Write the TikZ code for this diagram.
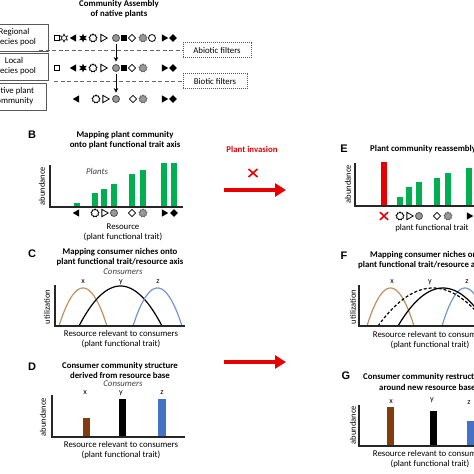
\documentclass[tikz,border=0pt]{standalone}
\usepackage{fontspec}
\setmainfont{Carlito}
\newfontfamily\labfont{Liberation Sans}
\usetikzlibrary{shapes.geometric, arrows.meta, calc}
\definecolor{pgreen}{RGB}{0,176,80}
\definecolor{pred}{RGB}{232,0,0}
\definecolor{cbrown}{RGB}{132,60,12}
\definecolor{cblue}{RGB}{68,114,196}
\definecolor{lbrown}{RGB}{190,145,95}
\definecolor{lblue}{RGB}{115,150,205}
\newcommand\mytitle{\fontsize{8.8}{10}\selectfont\bfseries}
\newcommand\mytext{\fontsize{8.8}{10}\selectfont}
\newcommand\mysmall{\fontsize{8.5}{9}\selectfont}
\newcommand\mytiny{\fontsize{8}{9}\selectfont}
\newcommand\mylab{\labfont\fontsize{11}{12}\selectfont\bfseries}
\newcommand\gbar[3][pgreen]{\fill[#1] ({#2-2.75},207) rectangle ({#2+2.75},#3);}
\newcommand\ebar[3][pgreen]{\fill[#1] ({#2-2.75},206) rectangle ({#2+2.75},#3);}
\newcommand\niche[5]{\draw[#5] plot[domain=-1:1, samples=41, smooth] ({#1+#2*\x},{#4-#3*(1-\x*\x)});}
\begin{document}
\begin{tikzpicture}[x=1pt,y=-1pt,
  ttl/.style={font=\mytitle, align=center, inner sep=0},
  txt/.style={font=\mytext, align=center, inner sep=0},
  plab/.style={font=\mylab, inner sep=0},
  ylab/.style={font=\mysmall, rotate=90, inner sep=0},
  xyz/.style={font=\mytiny, inner sep=0},
  ital/.style={font=\mytext\itshape, text=black!75, inner sep=0},
  axisline/.style={line width=1.2pt, draw=black!85},
  poolbox/.style={draw=black!65, line width=0.8pt, font=\mytext, align=center, inner sep=0},
  filterbox/.style={draw=black!65, densely dotted, line width=1pt, font=\mytext, inner sep=0},
  dashline/.style={draw=black!60, line width=1pt, dash pattern=on 4pt off 2.5pt},
  syall/.style={inner sep=0, line width=0.8pt},
  sysq/.style={syall, rectangle, draw, minimum size=5.5pt},
  sysqf/.style={syall, rectangle, fill=black, minimum size=6pt},
  systaro/.style={syall, star, star points=6, star point ratio=2, minimum size=8pt, draw, line width=0.6pt},
  systarf/.style={syall, star, star points=6, star point ratio=2.2, minimum size=9pt, fill=black},
  sytril/.style={syall, regular polygon, regular polygon sides=3, shape border rotate=90, fill=black, minimum size=8.5pt},
  sytriro/.style={syall, regular polygon, regular polygon sides=3, shape border rotate=-90, draw, minimum size=8.5pt},
  sytrirf/.style={syall, regular polygon, regular polygon sides=3, shape border rotate=-90, fill=black, minimum size=8.5pt},
  sycircg/.style={syall, circle, draw=black!70, fill=black!40, minimum size=7pt},
  sycirco/.style={syall, circle, draw, minimum size=7pt},
  sydiao/.style={syall, diamond, draw, minimum size=7.5pt},
  sydiaf/.style={syall, diamond, fill=black, minimum size=8pt},
  sycogo/.style={syall, star, star points=9, star point ratio=1.3, draw, minimum size=8pt},
  sycogg/.style={syall, star, star points=9, star point ratio=1.3, draw=black!60, fill=black!40, minimum size=8pt},
  redx/.style={draw=pred, line width=1.6pt},
  bigarrow/.style={draw=pred, line width=4pt, -{Triangle[length=11pt,width=13pt]}},
  vtarrow/.style={line width=1pt, -{Stealth[length=4.5pt,width=4.5pt]}}
]
\useasboundingbox (0,0) rectangle (474,474);
\clip (0,0) rectangle (474,474);

% ---------- A: community assembly ----------
\node[ttl] (atitle) at (119,9.5) {Community Assembly\\of native plants};
\node[poolbox, minimum width=68pt, minimum height=27pt] (regional) at (14,37.5) {Regional\\species pool};
\node[poolbox, minimum width=68pt, minimum height=27pt] (local) at (14,66.5) {Local\\species pool};
\node[poolbox, minimum width=66pt, minimum height=27pt] (native) at (13,96.5) {native plant\\community};
\node[filterbox, minimum width=68pt, minimum height=15pt] (abiotic) at (217,50) {Abiotic filters};
\node[filterbox, minimum width=64pt, minimum height=15pt] (biotic) at (215,81) {Biotic filters};
\coordinate (d1) at (39,50);
\coordinate (d2) at (54,81);
\draw[dashline] (d1) -- (abiotic.west);
\draw[dashline] (d2) -- (biotic.west);

\foreach \s/\x in {sysq/57, systaro/64, sytril/74, systarf/83, sycogo/93, sytriro/103, sycircg/116, sysqf/124, sydiao/132, sycogg/143, sycirco/152, sytrirf/164, sydiaf/173}
  \node[\s] (ra-\x) at (\x,38) {};
\foreach \s/\x in {sysq/57, sytril/74, systarf/83, sycogo/93, sytriro/103, sycircg/116, sysqf/124, sydiao/132, sycogg/143, sytrirf/164, sydiaf/173}
  \node[\s] (rb-\x) at (\x,68) {};
\foreach \s/\x in {sytril/77, sycogo/96, sytriro/105, sycircg/116, sydiao/133, sycogg/143, sytrirf/164, sydiaf/173}
  \node[\s] (rc-\x) at (\x,99) {};
\draw[vtarrow, shorten <=2pt, shorten >=2.5pt] (ra-116.south) -- (rb-116.north);
\draw[vtarrow, shorten <=2pt, shorten >=2.5pt] (rb-116.south) -- (rc-116.north);

% ---------- B ----------
\node[plab] (labB) at (32,135) {B};
\node[ttl] (titB) at (125,140) {Mapping plant community\\onto plant functional trait axis};
\node[ylab] (ylB) at (42,186) {abundance};
\node[ital] (plants) at (97,171) {Plants};
\coordinate (oB) at (50,207);
\coordinate (tB) at (50,165);
\coordinate (eB) at (183,207);
\gbar{77}{203}\gbar{95}{193}\gbar{104}{189}\gbar{114}{184}
\gbar{132}{174}\gbar{143}{170}\gbar{164}{163}\gbar{174}{163}
\draw[axisline] (tB) -- (oB) -- (eB);
\foreach \s/\x in {sytril/77, sycogo/95, sytriro/104, sycircg/114, sydiao/132, sycogg/143, sytrirf/164, sydiaf/174}
  \node[\s] (sb-\x) at (\x,213) {};
\node[txt] (resB) at (123,232.5) {Resource\\(plant functional trait)};

% ---------- invasion arrow ----------
\node[font=\mytitle, text=pred, inner sep=0] (inv) at (252,149) {Plant invasion};
\coordinate (xa) at (253,173);
\draw[redx] ($(xa)+(-4.5,-4)$) -- ($(xa)+(4.5,4)$);
\draw[redx] ($(xa)+(-4.5,4)$) -- ($(xa)+(4.5,-4)$);
\coordinate (ia1) at (224,190);
\coordinate (ia2) at (286,190);
\draw[bigarrow] (ia1) -- (ia2);
\coordinate (ib1) at (224,362);
\coordinate (ib2) at (286,362);
\draw[bigarrow] (ib1) -- (ib2);

% ---------- E ----------
\node[plab] (labE) at (344,149) {E};
\node[font=\mytitle, inner sep=0, anchor=west] (titE) at (370,149) {Plant community reassembly};
\node[ylab] (ylE) at (348,184) {abundance};
\coordinate (oE) at (355,206);
\coordinate (tE) at (355,163);
\coordinate (eE) at (480,206);
\ebar[pred]{384}{162}
\ebar{400}{197}\ebar{409}{187}\ebar{419}{182}\ebar{437}{178}\ebar{448}{173}\ebar{469}{168}
\draw[axisline] (tE) -- (oE) -- (eE);
\coordinate (xb) at (384,216);
\draw[redx] ($(xb)+(-4,-3.8)$) -- ($(xb)+(4,3.8)$);
\draw[redx] ($(xb)+(-4,3.8)$) -- ($(xb)+(4,-3.8)$);
\foreach \s/\x in {sycogo/400, sytriro/409, sycircg/419, sydiao/437, sycogg/448, sytrirf/469}
  \node[\s] (se-\x) at (\x,216) {};
\node[txt] (resE) at (432,228) {plant functional trait};

% ---------- C ----------
\node[plab] (labC) at (32,254) {C};
\node[ttl] (titC) at (120,257) {Mapping consumer niches onto\\plant functional trait/resource axis};
\node[ital] (consC) at (123,272) {Consumers};
\node[xyz] (xC) at (83,282) {x};
\node[xyz] (yC) at (121,282.5) {y};
\node[xyz] (zC) at (158,282) {z};
\node[ylab] (ylC) at (47,307) {utilization};
\coordinate (oC) at (55,326);
\coordinate (tC) at (55,285);
\coordinate (eC) at (185,326);
\niche{83}{24}{38}{326}{lbrown, line width=1.2pt}
\niche{120.5}{41.5}{40}{326}{black, line width=1.2pt}
\niche{157.5}{24.5}{38}{326}{lblue, line width=1.2pt}
\draw[axisline] (tC) -- (oC) -- (eC);
\node[txt] (resC) at (121,339) {Resource relevant to consumers\\(plant functional trait)};

% ---------- F ----------
\node[plab] (labF) at (344,256) {F};
\node[font=\mytitle, inner sep=0, anchor=west] (titF1) at (370,255) {Mapping consumer niches onto};
\node[font=\mytitle, inner sep=0, anchor=west] (titF2) at (358,265) {plant functional trait/resource axis};
\node[xyz] (xF) at (392,282) {x};
\node[xyz] (yF) at (430,282) {y};
\node[xyz] (zF) at (467,282) {z};
\node[ylab] (ylF) at (353,307) {utilization};
\coordinate (oF) at (359,326);
\coordinate (tF) at (359,285);
\coordinate (eF) at (480,326);
\niche{390.5}{23.5}{38}{326}{lbrown, line width=1.2pt}
\niche{465}{23}{38}{326}{lblue, line width=1.2pt}
\niche{443}{45}{38}{326}{black, line width=1.2pt}
\niche{433}{55}{38}{326}{black, line width=1.2pt, dash pattern=on 3pt off 2pt}
\draw[axisline] (tF) -- (oF) -- (eF);
\node[txt] (resF) at (430,340) {Resource relevant to consumers\\(plant functional trait)};

% ---------- D ----------
\node[plab] (labD) at (32,367) {D};
\node[ttl] (titD) at (120,370) {Consumer community structure\\derived from resource base};
\node[ital] (consD) at (123,384) {Consumers};
\node[xyz] (xD) at (85,393) {x};
\node[xyz] (yD) at (121,393) {y};
\node[xyz] (zD) at (162,393) {z};
\node[ylab] (ylD) at (43,417) {abundance};
\coordinate (oD) at (52,437);
\coordinate (tD) at (52,395);
\coordinate (eD) at (185,437);
\fill[cbrown] (83,437) rectangle (90,418);
\fill[black] (119,437) rectangle (126,399);
\fill[cblue] (158,437) rectangle (165.5,399);
\draw[axisline] (tD) -- (oD) -- (eD);
\node[txt] (resD) at (121,450) {Resource relevant to consumers\\(plant functional trait)};

% ---------- G ----------
\node[plab] (labG) at (346,376) {G};
\node[font=\mytitle, inner sep=0, anchor=west] (titG1) at (363,377) {Consumer community restructured};
\node[font=\mytitle, inner sep=0, anchor=west] (titG2) at (379,387) {around new resource base};
\node[xyz] (xG) at (391,402) {x};
\node[xyz] (yG) at (432,400) {y};
\node[xyz] (zG) at (469,403) {z};
\node[ylab] (ylG) at (353,425) {abundance};
\coordinate (oG) at (359,446);
\coordinate (tG) at (359,405);
\coordinate (eG) at (480,446);
\fill[cbrown] (387,446) rectangle (394,407);
\fill[black] (429.5,446) rectangle (436.5,411);
\fill[cblue] (467,446) rectangle (474.5,421);
\draw[axisline] (tG) -- (oG) -- (eG);
\node[txt] (resG) at (430,459) {Resource relevant to consumers\\(plant functional trait)};
\end{tikzpicture}
\end{document}
